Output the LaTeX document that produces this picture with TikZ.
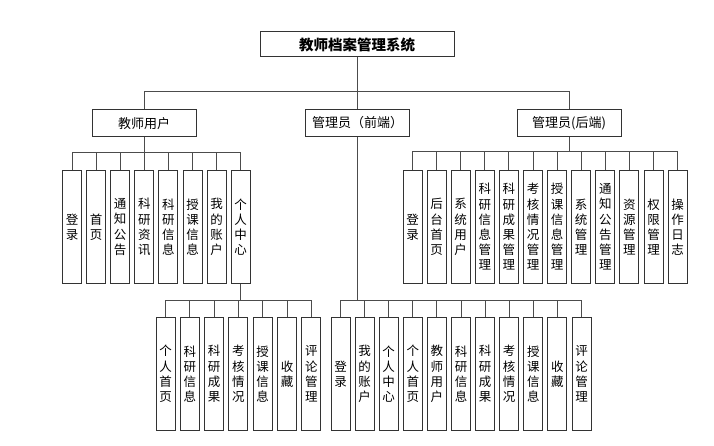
\documentclass[tikz,border=0pt]{standalone}
\usepackage{fontspec}
\setmainfont{Noto Sans CJK SC}
\usetikzlibrary{positioning}

\begin{document}
\begin{tikzpicture}[x=1pt, y=-1pt,
    topbox/.style={draw=black!80, line width=1pt, minimum width=194pt, minimum height=25pt, inner sep=0pt, font=\fontsize{14.5}{16}\selectfont\bfseries},
    rolebox/.style={draw=black!80, line width=1pt, minimum width=104pt, minimum height=27pt, inner sep=0pt, font=\fontsize{13}{15}\selectfont},
    leafbox/.style={draw=black!80, line width=1pt, minimum width=19pt, minimum height=113pt, inner sep=0pt, anchor=north, align=center, font=\fontsize{12.5}{15.2}\selectfont},
    link/.style={draw=black!70, line width=1pt}]
    \useasboundingbox (0,0) rectangle (714,446);

    % Root and roles
    \node[topbox] (root) at (357,44.5) {教师档案管理系统};
    \node[rolebox] (teacher) at (144,123.5) {教师用户};
    \node[rolebox] (front) at (357.5,123) {管理员（前端）};
    \node[rolebox] (back) at (569,123) {管理员(后端)};

    % Bus levels
    \coordinate (topbus) at (0,92);
    \coordinate (tbus) at (0,153);
    \coordinate (bbus) at (0,152);
    \coordinate (lowbus) at (0,300);

    \foreach \r in {teacher, front, back}
        \draw[link] (root.south) -- (root.south |- topbus) -| (\r.north);

    % Teacher user functions
    \foreach \txt [count=\i from 0] in {{登\\录}, {首\\页}, {通\\知\\公\\告}, {科\\研\\资\\讯}, {科\\研\\信\\息}, {授\\课\\信\\息}, {我\\的\\账\\户}, {个\\人\\中\\心}} {
        \node[leafbox] (t\i) at (72+24.1*\i,170) {\txt};
        \draw[link] (teacher.south) -- (teacher.south |- tbus) -| (t\i.north);
    }

    % Back-end admin functions
    \foreach \txt [count=\i from 0] in {{登\\录}, {后\\台\\首\\页}, {系\\统\\用\\户}, {科\\研\\信\\息\\管\\理}, {科\\研\\成\\果\\管\\理}, {考\\核\\情\\况\\管\\理}, {授\\课\\信\\息\\管\\理}, {系\\统\\管\\理}, {通\\知\\公\\告\\管\\理}, {资\\源\\管\\理}, {权\\限\\管\\理}, {操\\作\\日\\志}} {
        \node[leafbox] (b\i) at (412.5+24.1*\i,170) {\txt};
        \draw[link] (back.south) -- (back.south |- bbus) -| (b\i.north);
    }

    % Personal centre
    \foreach \txt [count=\i from 0] in {{个\\人\\首\\页}, {科\\研\\信\\息}, {科\\研\\成\\果}, {考\\核\\情\\况}, {授\\课\\信\\息}, {收\\藏}, {评\\论\\管\\理}} {
        \node[leafbox] (p\i) at (165.5+24.3*\i,317) {\txt};
        \draw[link] (t7.south) -- (t7.south |- lowbus) -| (p\i.north);
    }

    % Front-end admin functions
    \foreach \txt [count=\i from 0] in {{登\\录}, {我\\的\\账\\户}, {个\\人\\中\\心}, {个\\人\\首\\页}, {教\\师\\用\\户}, {科\\研\\信\\息}, {科\\研\\成\\果}, {考\\核\\情\\况}, {授\\课\\信\\息}, {收\\藏}, {评\\论\\管\\理}} {
        \node[leafbox] (f\i) at (340.5+24.1*\i,317) {\txt};
        \draw[link] (front.south) -- (front.south |- lowbus) -| (f\i.north);
    }
\end{tikzpicture}
\end{document}
